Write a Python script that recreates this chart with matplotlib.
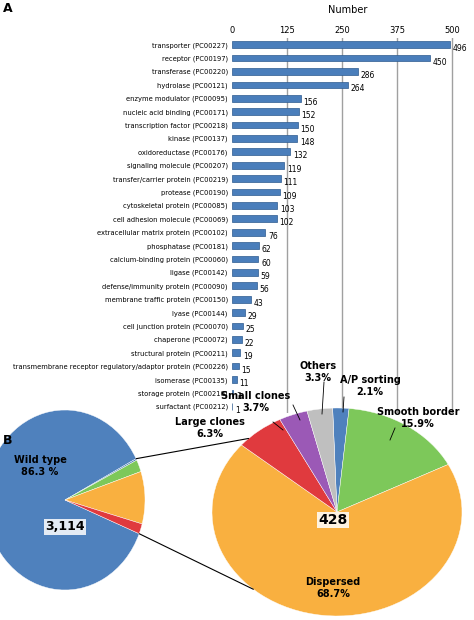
import matplotlib
matplotlib.use("Agg")
import matplotlib.pyplot as plt
from matplotlib.patches import ConnectionPatch
import numpy as np

categories = ["transporter (PC00227)", "receptor (PC00197)", "transferase (PC00220)", "hydrolase (PC00121)",
    "enzyme modulator (PC00095)", "nucleic acid binding (PC00171)", "transcription factor (PC00218)",
    "kinase (PC00137)", "oxidoreductase (PC00176)", "signaling molecule (PC00207)",
    "transfer/carrier protein (PC00219)", "protease (PC00190)", "cytoskeletal protein (PC00085)",
    "cell adhesion molecule (PC00069)", "extracellular matrix protein (PC00102)", "phosphatase (PC00181)",
    "calcium-binding protein (PC00060)", "ligase (PC00142)", "defense/immunity protein (PC00090)",
    "membrane traffic protein (PC00150)", "lyase (PC00144)", "cell junction protein (PC00070)",
    "chaperone (PC00072)", "structural protein (PC00211)",
    "transmembrane receptor regulatory/adaptor protein (PC00226)", "isomerase (PC00135)",
    "storage protein (PC00210)", "surfactant (PC00212)"]
counts = [496, 450, 286, 264, 156, 152, 150, 148, 132, 119, 111, 109, 103, 102, 76, 62, 60, 59, 56, 43,
          29, 25, 22, 19, 15, 11, 3, 1]
ticks = [0, 125, 250, 375, 500]

wt_labels = ["Wild type", "Mutant"]
wt_values = [86.3, 13.7]
wt_total = "3,114"
mut_labels = ["A/P sorting", "Smooth border", "Dispersed", "Large clones", "Small clones", "Others"]
mut_values = [2.1, 15.9, 68.7, 6.3, 3.7, 3.3]
mut_total = "428"

W, H = 474, 620
fig = plt.figure(figsize=(W/100, H/100), dpi=100)
def ax_px(l, t, r, b):
    return fig.add_axes([l/W, 1-b/H, (r-l)/W, (b-t)/H])
def ftext(x, y, s, **kw):
    fig.text(x/W, 1-y/H, s, **kw)

# Panel A
ax = ax_px(232, 38, 474, 413)
y = np.arange(len(categories))
ax.barh(y, counts, height=0.5, color="#4A7EBB", edgecolor="#2C5A8F", linewidth=0.5, zorder=3)
ax.set_ylim(len(categories)-0.5, -0.5)
ax.set_xlim(0, 550)
ax.set_yticks(y)
ax.set_yticklabels(categories, fontsize=4.9)
ax.xaxis.tick_top()
ax.set_xticks(ticks)
ax.tick_params(axis="x", labelsize=6, length=0, pad=2)
ax.tick_params(axis="y", length=0, pad=3)
ftext(348, 10, "Number", fontsize=7, ha="center", va="center")
for t in ticks[1:]:
    ax.axvline(t, color="#A0A0A0", lw=1, zorder=1)
for s in ax.spines.values():
    s.set_visible(False)
for yi, c in zip(y, counts):
    ax.text(c+6, yi+0.3, str(c), fontsize=5.5, va="center", ha="left", zorder=4)
ftext(3, 8, "A", fontsize=9, fontweight="bold", va="center")
ftext(3, 440, "B", fontsize=9, fontweight="bold", va="center")

blue, green, orange, red, purple, gray = "#4F81BD", "#7DC85A", "#F9B040", "#E03A3E", "#9B59B6", "#BFBFBF"

# Left pie (elliptical)
axl = ax_px(-15, 410, 145, 590)
sub = [mut_values[0], mut_values[1], mut_values[2], mut_values[3] + mut_values[4] + mut_values[5]]
sub_scaled = [v/100*wt_values[1] for v in sub]
vals = [wt_values[0]] + sub_scaled
cols = [blue, blue, green, orange, red]
S = -22
axl.pie(vals, colors=cols, startangle=S, counterclock=False,
        wedgeprops=dict(linewidth=0.3, edgecolor="white"))
axl.set_aspect("auto")
axl.set_xlim(-1.0, 1.0); axl.set_ylim(-1.0, 1.0)
ftext(40, 466, "Wild type\n86.3 %", fontsize=7, fontweight="bold", ha="center", va="center")
ftext(65, 527, wt_total, fontsize=9, fontweight="bold", ha="center", va="center",
      bbox=dict(facecolor="white", edgecolor="none", alpha=0.85, pad=1))

# Right pie (elliptical)
axr = ax_px(212, 408, 462, 616)
axr.pie(mut_values, colors=[blue, green, orange, red, purple, gray], startangle=92, counterclock=False,
        wedgeprops=dict(linewidth=0.3, edgecolor="white"))
axr.set_aspect("auto")
axr.set_xlim(-1.0, 1.0); axr.set_ylim(-1.0, 1.0)
ftext(333, 520, mut_total, fontsize=10, fontweight="bold", ha="center", va="center",
      bbox=dict(facecolor="white", edgecolor="none", alpha=0.85, pad=1))
ftext(333, 588, "Dispersed\n68.7%", fontsize=7, fontweight="bold", ha="center", va="center")
ftext(418, 418, "Smooth border\n15.9%", fontsize=7, fontweight="bold", ha="center", va="center")
ftext(370, 386, "A/P sorting\n2.1%", fontsize=7, fontweight="bold", ha="center", va="center")
ftext(318, 372, "Others\n3.3%", fontsize=7, fontweight="bold", ha="center", va="center")
ftext(256, 402, "Small clones\n3.7%", fontsize=7, fontweight="bold", ha="center", va="center")
ftext(210, 428, "Large clones\n6.3%", fontsize=7, fontweight="bold", ha="center", va="center")
for (x1, y1, x2, y2) in [(395, 428, 390, 440), (324, 382, 322, 414), (344, 397, 343, 412),
                         (293, 405, 300, 420), (273, 422, 283, 430)]:
    fig.add_artist(plt.Line2D([x1/W, x2/W], [1-y1/H, 1-y2/H], color="black", lw=0.6))

# connectors
a_top = np.deg2rad(S + wt_values[1]*3.6)
a_bot = np.deg2rad(S)
for ang, angr in [(a_top, np.deg2rad(135)), (a_bot, np.deg2rad(228))]:
    con = ConnectionPatch(xyA=(np.cos(ang), np.sin(ang)), coordsA=axl.transData,
                          xyB=(np.cos(angr), np.sin(angr)), coordsB=axr.transData, color="black", lw=0.8)
    fig.add_artist(con)

fig.savefig("out.png", dpi=100)
